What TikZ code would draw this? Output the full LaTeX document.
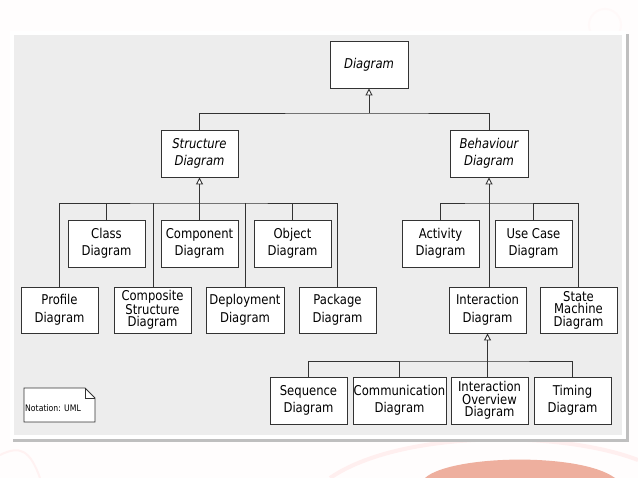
\documentclass[tikz,border=0pt]{standalone}
\usepackage{fontspec}
\setmainfont{DejaVu Sans}[FakeStretch=0.86]
\usetikzlibrary{arrows.meta}
\begin{document}
\begin{tikzpicture}[x=1pt,y=-1pt,
  box/.style={draw=black!80,fill=white,line width=0.9pt,inner sep=0pt,align=center,
    font=\fontsize{13.5}{17.5}\selectfont},
  three/.style={font=\fontsize{13.5}{12.5}\selectfont},
  ln/.style={draw=black!80,line width=0.9pt},
  gen/.style={ln,-{Triangle[open,length=7pt,width=7pt,fill=white]}}]
\useasboundingbox (0,0) rectangle (638,478);
\fill[white!92!red!8] (0,0) rectangle (638,478);
\fill[red!40!brown!45!white] (425,478) .. controls (450,455) and (580,452) .. (615,478) -- cycle;
\draw[white!75!red!25,line width=4pt] (330,478) .. controls (400,430) and (560,430) .. (638,460);
\draw[white!75!red!20,line width=2pt] (0,455) .. controls (20,445) and (30,450) .. (40,478);
\draw[white!85!red!15,line width=2pt] (605,25) circle[radius=16];
\fill[black!25] (13,34) rectangle (629,442);
\fill[white] (10,31) rectangle (626,439);
\fill[black!7] (14,35) rectangle (622,435);
\def\bx#1#2#3#4#5#6{\node[box,minimum width=#4-#2,minimum height=#5-#3] (#1) at ({(#2+#4)/2},{(#3+#5)/2}) {#6};}
\def\bxt#1#2#3#4#5#6{\node[box,three,minimum width=#4-#2,minimum height=#5-#3] (#1) at ({(#2+#4)/2},{(#3+#5)/2}) {#6};}
\bx{dg}{330}{41}{408}{88}{\itshape Diagram}
\bx{st}{161}{130}{238}{177}{\itshape Structure\\\itshape Diagram}
\bx{bh}{450}{130}{528}{177}{\itshape Behaviour\\\itshape Diagram}
\bx{cl}{68}{220}{145}{267}{Class\\Diagram}
\bx{co}{161}{220}{238}{267}{Component\\Diagram}
\bx{ob}{254}{220}{331}{267}{Object\\Diagram}
\bx{ac}{402}{220}{479}{267}{Activity\\Diagram}
\bx{uc}{495}{220}{572}{267}{Use Case\\Diagram}
\bx{pr}{21}{287}{98}{333}{Profile\\Diagram}
\bxt{cs}{114}{287}{191}{333}{Composite\\Structure\\Diagram}
\bx{de}{206}{287}{284}{333}{Deployment\\Diagram}
\bx{pa}{299}{287}{376}{333}{Package\\Diagram}
\bx{in}{449}{287}{526}{333}{Interaction\\Diagram}
\bxt{sm}{540}{287}{617}{333}{State\\Machine\\Diagram}
\bx{sq}{270}{377}{347}{424}{Sequence\\Diagram}
\bx{cm}{353}{377}{446}{424}{Communication\\Diagram}
\bxt{io}{451}{377}{528}{424}{Interaction\\Overview\\Diagram}
\bx{ti}{534}{377}{611}{424}{Timing\\Diagram}
% note
\draw[ln,fill=white,line width=0.8pt] (24,388) -- (85,388) -- (95,398) -- (95,422) -- (24,422) -- cycle;
\draw[ln,line width=0.8pt] (85,388) -- (85,398) -- (95,398);
\node[font=\fontsize{9}{9}\selectfont,anchor=west,inner sep=0pt] (nt) at (25,408) {Notation: UML};
% level 1
\coordinate (b1) at (dg.south |- 0,113);
\draw[ln] (st.north) |- (b1) -| (bh.north);
\draw[gen] (b1) -- (dg.south);
% structure
\coordinate (b2) at (st.south |- 0,203);
\draw[ln] (pr.north) |- (b2) -| (pa.north);
\draw[ln] (cl.north) -- (cl.north |- b2);
\draw[ln] (ob.north) -- (ob.north |- b2);
\coordinate (cst) at (153,287); \draw[ln] (cst) -- (cst |- b2);
\coordinate (det) at (245,287); \draw[ln] (det) -- (det |- b2);
\draw[gen] (co.north) -- (st.south);
% behaviour
\coordinate (b3) at (bh.south |- 0,203);
\draw[ln] (ac.north) |- (b3) -| (sm.north);
\draw[ln] (uc.north) -- (uc.north |- b3);
\draw[gen] (bh.south |- in.north) -- (bh.south);
% interaction
\coordinate (b4) at (in.south |- 0,361);
\draw[ln] (sq.north) |- (b4) -| (ti.north);
\draw[ln] (cm.north) -- (cm.north |- b4);
\draw[gen] (b4 |- io.north) -- (in.south);
\end{tikzpicture}
\end{document}
